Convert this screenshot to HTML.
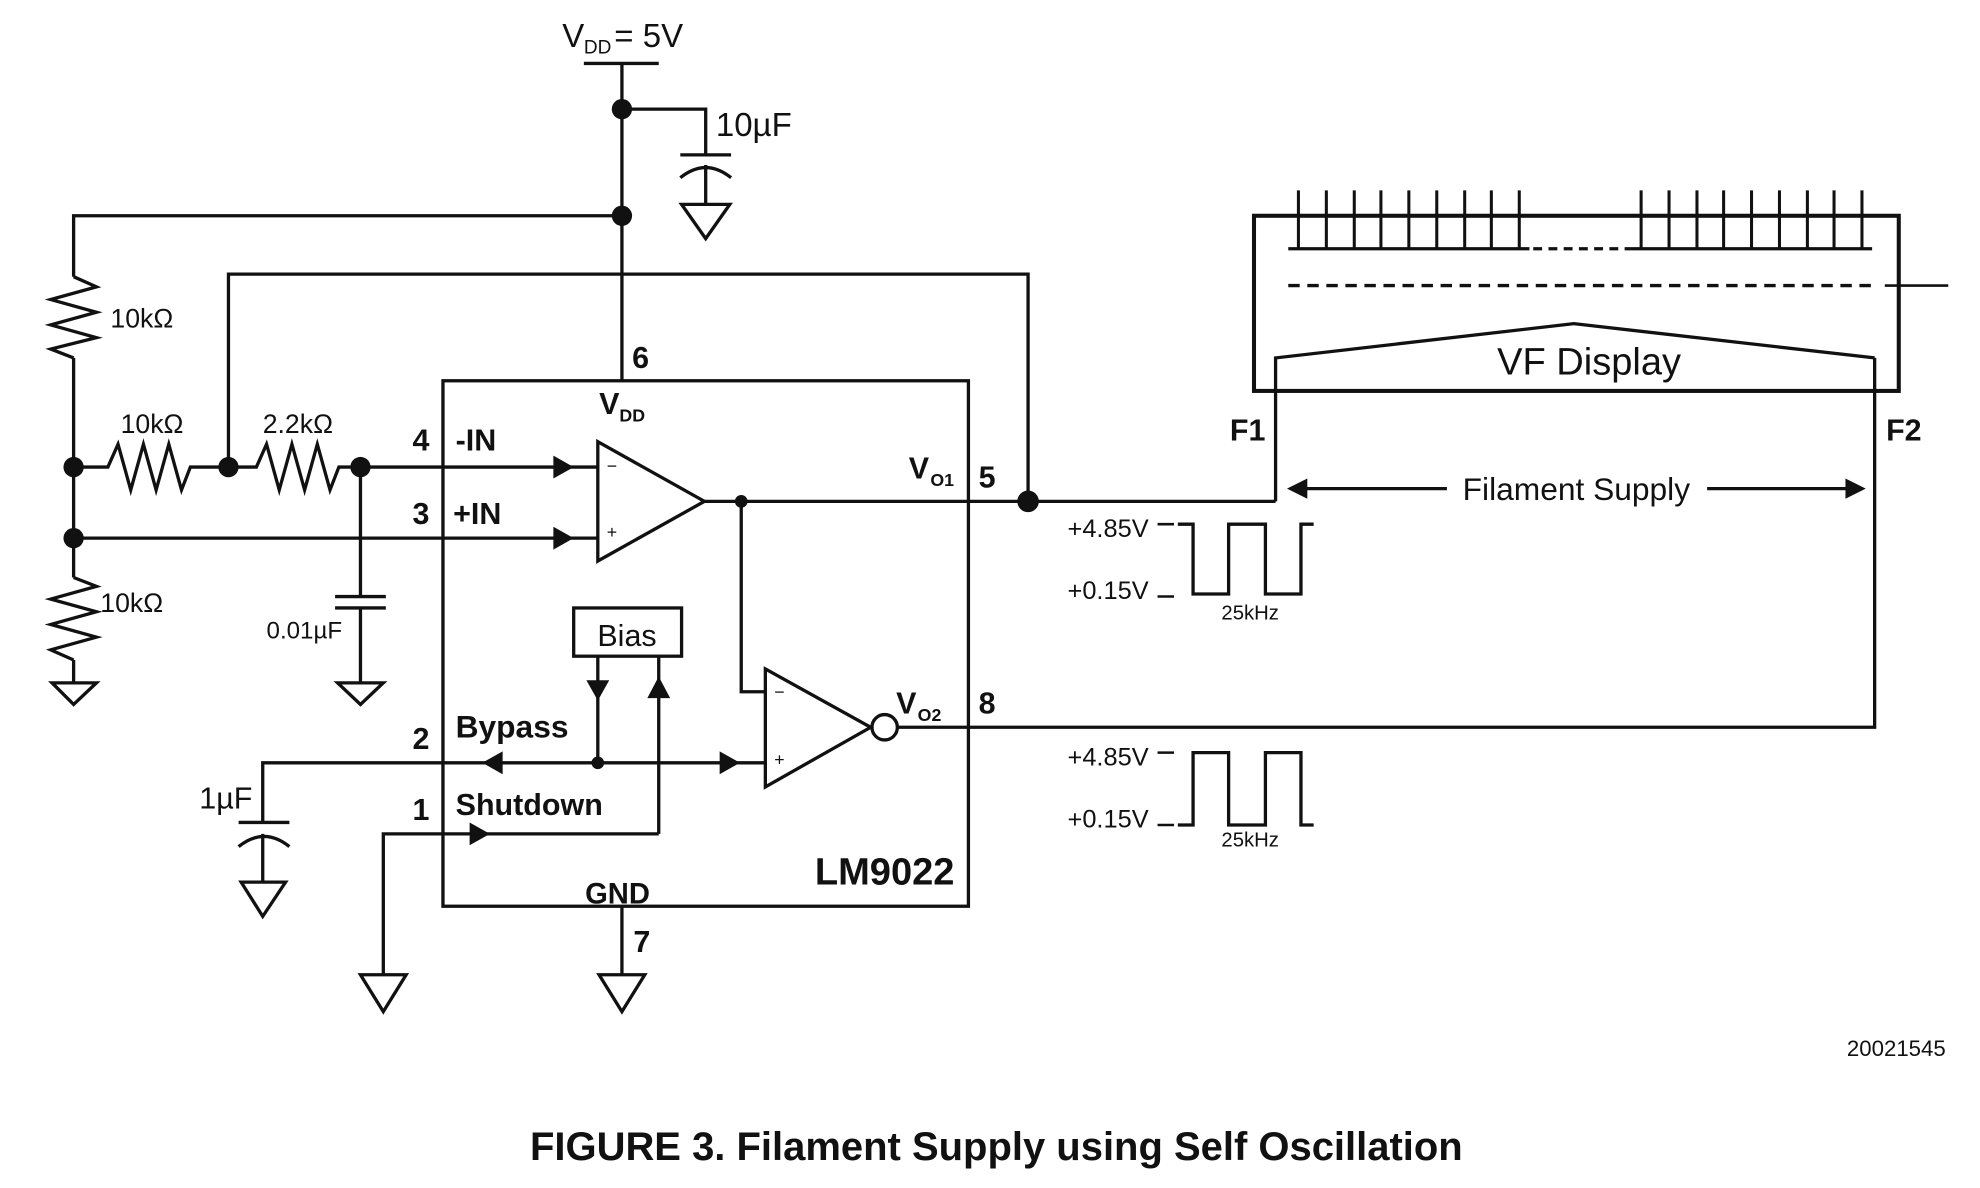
<!DOCTYPE html>
<html><head><meta charset="utf-8"><style>
html,body{margin:0;padding:0;background:#fff;}
svg{display:block;}
text{font-family:"Liberation Sans",Arial,sans-serif;fill:#111;}
.b{font-weight:bold;}
</style></head><body>
<svg width="1980" height="1188" viewBox="0 0 1560 936" xmlns="http://www.w3.org/2000/svg">
<g stroke="#111" stroke-width="2.6" fill="none" stroke-linejoin="miter">
<line x1="460" y1="50" x2="519" y2="50"/>
<line x1="490" y1="50" x2="490" y2="300"/>
<polyline points="490,86 556,86 556,122"/>
<line x1="536" y1="122" x2="576" y2="122"/>
<path d="M536,140 Q556,124 576,140"/>
<line x1="556" y1="130" x2="556" y2="161"/>
<polygon points="537,161 575,161 556,188"/>
<polyline points="490,170 58,170 58,218"/>
<polyline points="58,218 76,226 40,236 76,246 40,256 76,266 40,275 58,282"/>
<line x1="58" y1="282" x2="58" y2="455"/>
<polyline points="58,455 76,462 40,472 76,482 40,492 76,502 40,512 58,520"/>
<line x1="58" y1="520" x2="58" y2="538"/>
<polygon points="41,538 76,538 58,555"/>
<polyline points="180,368 180,216 810,216 810,395"/>
<polyline points="58,368 85,368 93,350 103,386 113,350 123,386 133,350 143,386 150,368 180,368"/>
<polyline points="180,368 202,368 210,350 220,386 230,350 240,386 250,350 260,386 267,368 284,368 448,368"/>
<line x1="58" y1="424" x2="448" y2="424"/>
<line x1="448" y1="368" x2="471" y2="368"/>
<line x1="448" y1="424" x2="471" y2="424"/>
<line x1="284" y1="368" x2="284" y2="470"/>
<line x1="264" y1="470" x2="304" y2="470"/>
<line x1="264" y1="479" x2="304" y2="479"/>
<line x1="284" y1="479" x2="284" y2="538"/>
<polygon points="266,538 302,538 284,555"/>
<rect x="349" y="300" width="414" height="414"/>
<polygon points="471,348 471,442 555,395"/>
<line x1="555" y1="395" x2="1005" y2="395"/>
<polyline points="584,395 584,545 603,545"/>
<polygon points="603,527 603,620 686,573"/>
<circle cx="697" cy="573" r="10"/>
<polyline points="707,573 1477,573 1477,282"/>
<rect x="452" y="479" width="85" height="38"/>
<line x1="471" y1="517" x2="471" y2="601"/>
<line x1="519" y1="517" x2="519" y2="657"/>
<polyline points="603,601 207,601 207,648"/>
<line x1="188" y1="648" x2="228" y2="648"/>
<path d="M188,667 Q208,651 228,667"/>
<line x1="207" y1="657" x2="207" y2="695"/>
<polygon points="190,695 225,695 207,722"/>
<polyline points="519,657 302,657 302,768"/>
<polygon points="284,768 320,768 302,797"/>
<line x1="490" y1="714" x2="490" y2="768"/>
<polygon points="472,768 508,768 490,797"/>
<polyline points="1005,395 1005,282 1240,255 1477,282"/>
<rect x="988" y="170" width="508" height="138" stroke-width="3.2"/>
<line x1="1015" y1="196" x2="1205" y2="196"/>
<line x1="1285" y1="196" x2="1475" y2="196"/>
<line x1="1208" y1="196" x2="1285" y2="196" stroke-dasharray="7,5"/>
<line x1="1015" y1="225" x2="1478" y2="225" stroke-dasharray="9,6"/>
<line x1="1485" y1="225" x2="1535" y2="225" stroke-width="2"/>
<polyline points="928,413 940,413 940,468 968,468 968,413 997,413 997,468 1025,468 1025,413 1035,413"/>
<polyline points="928,650 940,650 940,593 968,593 968,650 997,650 997,593 1025,593 1025,650 1035,650"/>
<line x1="912" y1="413" x2="925" y2="413" stroke-width="2"/>
<line x1="912" y1="470" x2="925" y2="470" stroke-width="2"/>
<line x1="912" y1="593" x2="925" y2="593" stroke-width="2"/>
<line x1="912" y1="650" x2="925" y2="650" stroke-width="2"/>
<line x1="1020" y1="385" x2="1140" y2="385"/>
<line x1="1345" y1="385" x2="1462" y2="385"/>
</g>
<g stroke="#111" stroke-width="2.4">
<line x1="1023" y1="150" x2="1023" y2="196"/><line x1="1045" y1="150" x2="1045" y2="196"/><line x1="1067" y1="150" x2="1067" y2="196"/><line x1="1088" y1="150" x2="1088" y2="196"/><line x1="1110" y1="150" x2="1110" y2="196"/><line x1="1132" y1="150" x2="1132" y2="196"/><line x1="1154" y1="150" x2="1154" y2="196"/><line x1="1175" y1="150" x2="1175" y2="196"/><line x1="1197" y1="150" x2="1197" y2="196"/>
<line x1="1293" y1="150" x2="1293" y2="196"/><line x1="1315" y1="150" x2="1315" y2="196"/><line x1="1337" y1="150" x2="1337" y2="196"/><line x1="1358" y1="150" x2="1358" y2="196"/><line x1="1380" y1="150" x2="1380" y2="196"/><line x1="1402" y1="150" x2="1402" y2="196"/><line x1="1424" y1="150" x2="1424" y2="196"/><line x1="1445" y1="150" x2="1445" y2="196"/><line x1="1467" y1="150" x2="1467" y2="196"/>
</g>
<g fill="#111">
<circle cx="490" cy="86" r="8"/><circle cx="490" cy="170" r="8"/>
<circle cx="58" cy="368" r="8"/><circle cx="58" cy="424" r="8"/>
<circle cx="180" cy="368" r="8"/><circle cx="284" cy="368" r="8"/>
<circle cx="810" cy="395" r="8.5"/><circle cx="584" cy="395" r="5"/>
<circle cx="471" cy="601" r="5"/>
<polygon points="436,359 452,368 436,377"/>
<polygon points="436,415 452,424 436,433"/>
<polygon points="462,536 480,536 471,552"/>
<polygon points="510,550 528,550 519,533"/>
<polygon points="396,592 396,610 380,601"/>
<polygon points="567,592 567,610 583,601"/>
<polygon points="370,648 370,666 386,657"/>
<polygon points="1030,377 1030,393 1014,385"/>
<polygon points="1454,377 1454,393 1470,385"/>
</g>
<text x="443" y="37" font-size="26">V</text><text x="460" y="42" font-size="15">DD</text><text x="484" y="37" font-size="26">= 5V</text>
<text x="564" y="107" font-size="26">10µF</text>
<text x="87" y="258" font-size="21">10kΩ</text>
<text x="95" y="341" font-size="21">10kΩ</text>
<text x="207" y="341" font-size="21">2.2kΩ</text>
<text x="79" y="482" font-size="21">10kΩ</text>
<text x="210" y="503" font-size="19">0.01µF</text>
<text x="157" y="637" font-size="24">1µF</text>
<text x="498" y="290" font-size="24" class="b">6</text>
<text x="472" y="326" font-size="24" class="b">V</text><text x="488" y="332" font-size="14" class="b">DD</text>
<text x="325" y="355" font-size="24" class="b">4</text><text x="359" y="355" font-size="24" class="b">-IN</text>
<text x="325" y="413" font-size="24" class="b">3</text><text x="357" y="413" font-size="24" class="b">+IN</text>
<text x="478" y="372" font-size="14">−</text><text x="478" y="424" font-size="14">+</text>
<text x="610" y="550" font-size="14">−</text><text x="610" y="603" font-size="14">+</text>
<text x="716" y="377" font-size="24" class="b">V</text><text x="733" y="383" font-size="14" class="b">O1</text>
<text x="771" y="384" font-size="24" class="b">5</text>
<text x="706" y="562" font-size="24" class="b">V</text><text x="723" y="568" font-size="14" class="b">O2</text>
<text x="771" y="562" font-size="24" class="b">8</text>
<text x="494" y="509" font-size="24" text-anchor="middle">Bias</text>
<text x="325" y="590" font-size="24" class="b">2</text><text x="359" y="581" font-size="25" class="b">Bypass</text>
<text x="325" y="646" font-size="24" class="b">1</text><text x="359" y="642" font-size="24" class="b">Shutdown</text>
<text x="461" y="712" font-size="23" class="b">GND</text>
<text x="499" y="750" font-size="24" class="b">7</text>
<text x="642" y="697" font-size="30" class="b">LM9022</text>
<text x="1252" y="295" font-size="30" text-anchor="middle">VF Display</text>
<text x="969" y="347" font-size="24" class="b">F1</text>
<text x="1486" y="347" font-size="24" class="b">F2</text>
<text x="1242" y="394" font-size="25" text-anchor="middle">Filament Supply</text>
<text x="905" y="423" font-size="20" text-anchor="end">+4.85V</text>
<text x="905" y="472" font-size="20" text-anchor="end">+0.15V</text>
<text x="985" y="488" font-size="16" text-anchor="middle">25kHz</text>
<text x="905" y="603" font-size="20" text-anchor="end">+4.85V</text>
<text x="905" y="652" font-size="20" text-anchor="end">+0.15V</text>
<text x="985" y="667" font-size="16" text-anchor="middle">25kHz</text>
<text x="1533" y="832" font-size="17.5" text-anchor="end">20021545</text>
<text x="785" y="914" font-size="31.5" class="b" text-anchor="middle">FIGURE 3. Filament Supply using Self Oscillation</text>
</svg>
</body></html>
